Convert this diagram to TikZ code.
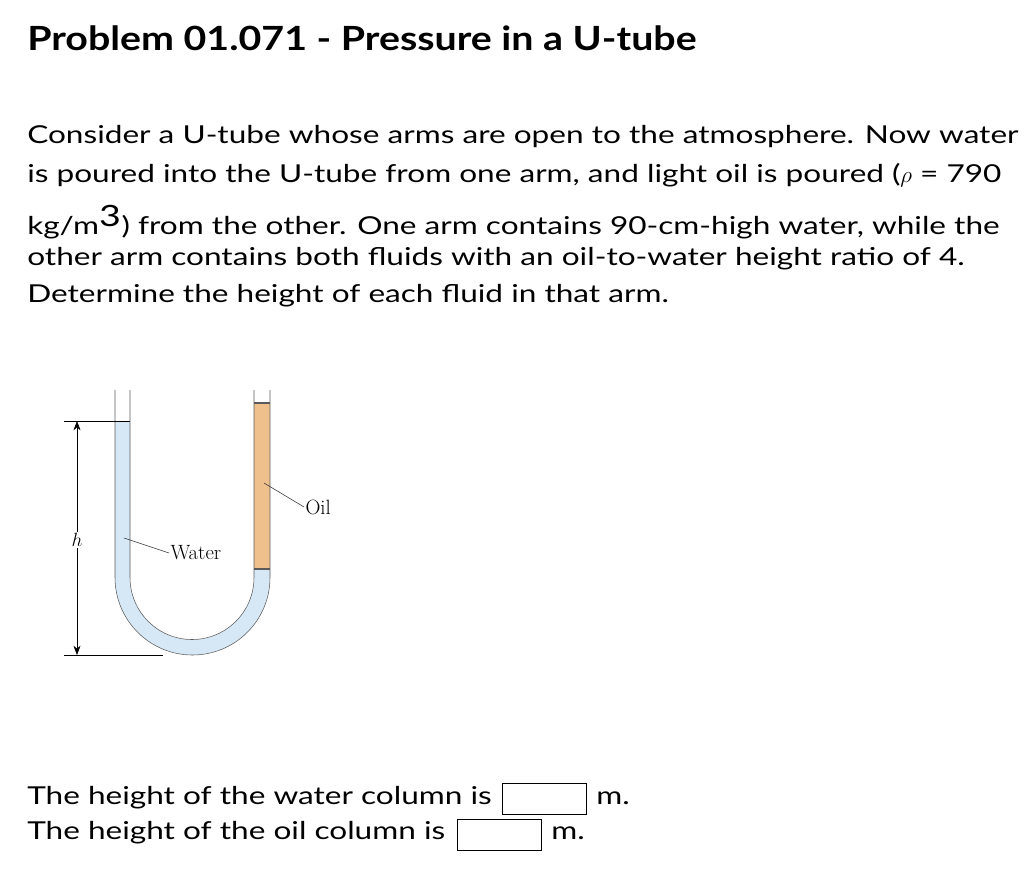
\documentclass[tikz,border=0pt]{standalone}
\usepackage{fontspec}
\setmainfont{Lato}[FakeStretch=1.28]
\newfontfamily\titlefont{Lato}[FakeStretch=1.18]
\usetikzlibrary{arrows.meta}
\definecolor{waterblue}{RGB}{214,232,246}
\definecolor{oilorange}{RGB}{240,192,140}
\definecolor{tubegrey}{RGB}{90,90,90}

\begin{document}
\begin{tikzpicture}[x=0.75pt, y=-0.75pt]
  \tikzset{
    body_line/.style={anchor=west, inner sep=0pt, font=\fontsize{18.5}{20}\selectfont},
    fig_label/.style={inner sep=1pt, font=\fontfamily{lmr}\selectfont\fontsize{15.5}{17}\selectfont},
    leader/.style={draw=black!80, thin},
    answer_box/.style={draw, thin, minimum width=63pt, minimum height=23pt, inner sep=0pt}
  }
  \useasboundingbox (0,0) rectangle (1030,886);

  % title and problem statement
  \node[body_line, font=\titlefont\fontsize{25}{27}\bfseries] (title) at (27,38) {Problem 01.071 - Pressure in a U-tube};
  \node[body_line] (l1) at (27,137) {Consider a U-tube whose arms are open to the atmosphere. Now water};
  \node[body_line] (l2) at (27,175) {is poured into the U-tube from one arm, and light oil is poured ($\rho$ = 790};
  \node[body_line] (l3) at (27,222) {kg/m\textsuperscript{\fontsize{22}{22}\selectfont 3}) from the other. One arm contains 90-cm-high water, while the};
  \node[body_line] (l4) at (27,259) {other arm contains both fluids with an oil-to-water height ratio of 4.};
  \node[body_line] (l5) at (27,296) {Determine the height of each fluid in that arm.};

  % fluids
  \fill[waterblue] (115,421) -- (130,421) -- (130,577.5) arc[start angle=180, end angle=0, radius=62]
    -- (254,569) -- (270,569) -- (270,577.5) arc[start angle=0, end angle=180, radius=77.5] -- cycle;
  \fill[oilorange] (254,403) rectangle (270,569);
  \draw[tubegrey, thick] (254,403) -- (270,403) (254,569) -- (270,569);

  % tube walls
  \draw[tubegrey, thin] (115,390) -- (115,577.5) arc[start angle=180, end angle=0, radius=77.5] -- (270,390);
  \draw[tubegrey, thin] (130,390) -- (130,577.5) arc[start angle=180, end angle=0, radius=62] -- (254,390);

  % height h
  \draw[thin] (64,421) -- (130,421);
  \draw[thin] (64,655) -- (163,655);
  \coordinate (h_top) at (77,421);
  \coordinate (h_bot) at (77,655);
  \node[fig_label, fill=white] (h) at (77,540) {$h$};
  \draw[-{Stealth[length=7pt]}] (h) -- (h_top);
  \draw[-{Stealth[length=7pt]}] (h) -- (h_bot);

  % labels
  \coordinate (water_pt) at (124,538);
  \coordinate (oil_pt) at (264,483);
  \node[fig_label, anchor=west] (water) at (169,553) {Water};
  \node[fig_label, anchor=west] (oil) at (304,507) {Oil};
  \draw[leader] (water_pt) -- (water.west);
  \draw[leader] (oil_pt) -- (oil.west);

  % answers
  \node[body_line] (a1) at (27,798) {The height of the water column is};
  \node[answer_box, anchor=west] (box1) at (502,799) {};
  \node[body_line, anchor=west] (m1) at (596,798) {m.};
  \node[body_line] (a2) at (27,833) {The height of the oil column is};
  \node[answer_box, anchor=west] (box2) at (457,835) {};
  \node[body_line, anchor=west] (m2) at (551,833) {m.};
\end{tikzpicture}
\end{document}
